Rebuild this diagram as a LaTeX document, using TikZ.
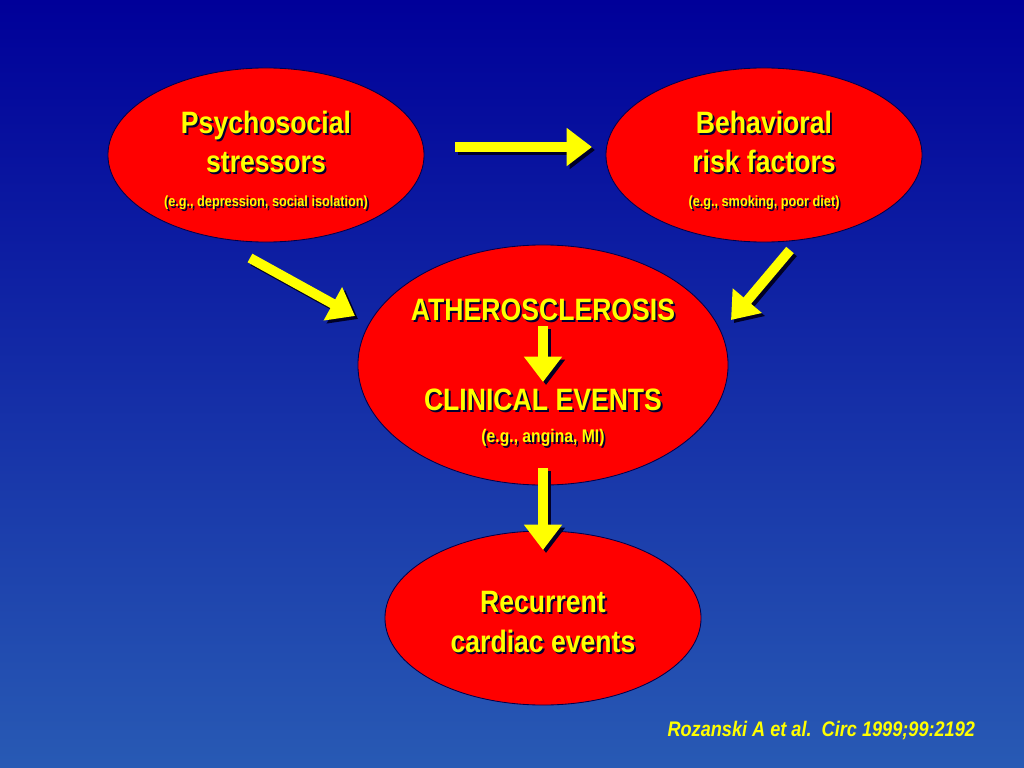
\documentclass[tikz,border=0pt]{standalone}
\usepackage{fontspec}
\setmainfont{Liberation Sans}[FakeStretch=0.86]
\usetikzlibrary{arrows.meta,shapes.geometric}
\definecolor{ylw}{RGB}{255,255,0}
\definecolor{rd}{RGB}{255,0,0}
\tikzset{
 ell/.style={ellipse,draw=black!70!blue,line width=0.6pt,fill=rd,inner sep=0pt},
 bigt/.style={text=ylw,font=\bfseries\fontsize{22}{28}\selectfont,align=center},
 smallt/.style={text=ylw,font=\bfseries\fontsize{10.5}{12}\selectfont},
 yarrow/.style={draw=ylw,line width=7pt,-{Triangle[length=18pt,width=26pt]}},
 sarrow/.style={draw=black!85!blue,line width=7pt,-{Triangle[length=18pt,width=26pt]}},
}
\newcommand{\shtext}[3]{\node[#1,text=black!80!blue,xshift=1.3pt,yshift=-1.3pt] at (#2) {#3};\node[#1] at (#2) {#3};}
\newcommand{\yarr}[2]{\draw[sarrow] ([shift={(3,3)}]#1) -- ([shift={(3,3)}]#2);\draw[yarrow] (#1) -- (#2);}
\begin{document}
\begin{tikzpicture}[x=0.025cm,y=-0.025cm]
\shade[top color=blue!60!black,bottom color={rgb,255:red,40;green,90;blue,180}] (0,0) rectangle (1024,768);
\useasboundingbox (0,0) rectangle (1024,768);
\node[ell,minimum width=7.9cm,minimum height=4.35cm] (p) at (266,155) {};
\node[ell,minimum width=7.9cm,minimum height=4.35cm] (b) at (764,155) {};
\node[ell,minimum width=9.25cm,minimum height=6cm] (a) at (543,365) {};
\node[ell,minimum width=7.9cm,minimum height=4.35cm] (r) at (543,618) {};
\shtext{bigt}{266,142}{Psychosocial\\stressors}
\shtext{smallt}{266,203}{(e.g., depression, social isolation)}
\shtext{bigt}{764,142}{Behavioral\\risk factors}
\shtext{smallt}{764,203}{(e.g., smoking, poor diet)}
\shtext{bigt}{543,310}{ATHEROSCLEROSIS}
\shtext{bigt}{543,400}{CLINICAL EVENTS}
\shtext{smallt,font=\bfseries\fontsize{13}{15}\selectfont}{543,438}{(e.g., angina, MI)}
\shtext{bigt}{543,622}{Recurrent\\cardiac events}
\node[anchor=east,text=ylw,font=\bfseries\itshape\fontsize{15}{18}\selectfont] (c) at (980,730) {Rozanski A et al.\ \ Circ 1999;99:2192};
\coordinate (h1) at (455,147); \coordinate (h2) at (592,147);
\coordinate (l1) at (250,258); \coordinate (l2) at (355,316);
\coordinate (r1) at (790,250); \coordinate (r2) at (731,320);
\coordinate (m1) at (543,326); \coordinate (m2) at (543,382);
\coordinate (d1) at (543,468); \coordinate (d2) at (543,550);
\yarr{h1}{h2}
\yarr{l1}{l2}
\yarr{r1}{r2}
\yarr{m1}{m2}
\yarr{d1}{d2}
\end{tikzpicture}
\end{document}
